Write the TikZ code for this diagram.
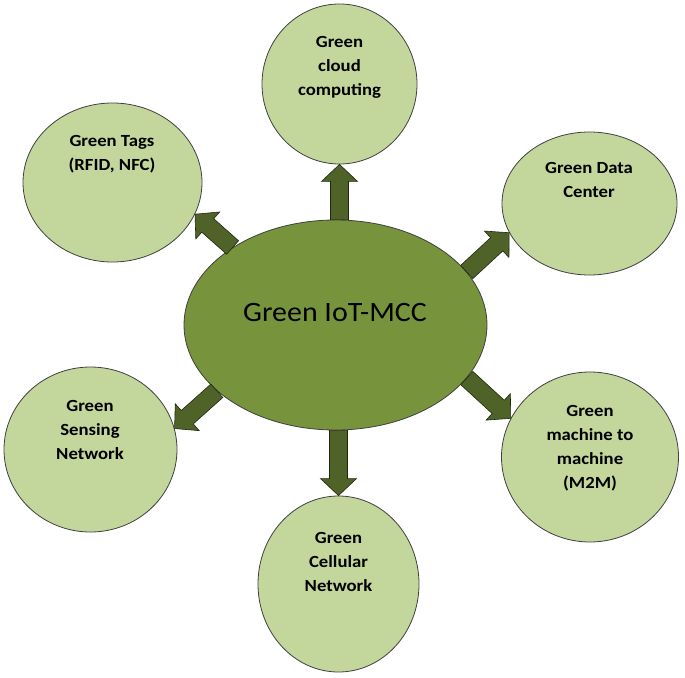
\documentclass[tikz,border=0pt]{standalone}
\usepackage{fontspec}
\newfontfamily\satfont[FakeStretch=1.1]{Carlito}
\newfontfamily\cenfont[FakeStretch=1.07]{Carlito}
\usetikzlibrary{shapes.geometric,calc}
\definecolor{satfill}{HTML}{C3D69B}
\definecolor{cenfill}{HTML}{77933C}
\definecolor{arrfill}{HTML}{4F6228}
\tikzset{
  sat/.style={ellipse, draw=black!75, line width=0.8pt, fill=satfill, inner sep=0pt},
  cen/.style={ellipse, draw=black!75, line width=0.8pt, fill=cenfill, inner sep=0pt},
  sattext/.style={font=\satfont\bfseries\fontsize{17}{24}\selectfont, align=center, inner sep=0pt, text=black},
  centext/.style={font=\cenfont\fontsize{28}{32}\selectfont, inner sep=0pt, text=black},
  fatarr/.style={fill=arrfill, draw=black!60!arrfill, line width=0.6pt},
}
\newcommand{\fatarrow}[2]{%
  \coordinate (fa1) at (#1);
  \coordinate (fa2) at (#2);
  \coordinate (fah) at ($(fa2)!17pt!(fa1)$);
  \filldraw[fatarr] ($(fa1)!9pt!90:(fa2)$) -- ($(fah)!9pt!90:(fa2)$) -- ($(fah)!18pt!90:(fa2)$)
    -- (fa2) -- ($(fah)!18pt!-90:(fa2)$) -- ($(fah)!9pt!-90:(fa2)$) -- ($(fa1)!9pt!-90:(fa2)$) -- cycle;
}
\begin{document}
\begin{tikzpicture}[x=1pt,y=-1pt]
\useasboundingbox (0,0) rectangle (685,677);
% satellites
\node[sat, minimum width=155pt, minimum height=160pt] (cloud) at (339.5,84) {};
\node[sat, minimum width=179pt, minimum height=159pt] (tags) at (112.5,182.5) {};
\node[sat, minimum width=175pt, minimum height=143pt] (dc) at (589.5,203.5) {};
\node[sat, minimum width=173pt, minimum height=165pt] (sens) at (90.5,449.5) {};
\node[sat, minimum width=177pt, minimum height=170pt] (m2m) at (590,457) {};
\node[sat, minimum width=161pt, minimum height=176pt] (cell) at (338.5,584) {};
% centre
\node[cen, minimum width=303pt, minimum height=210pt] (c) at (335.5,325) {};
% texts
\node[sattext] (cloudT) at (339.5,67) {Green\\cloud\\computing};
\node[sattext] (tagsT) at (112,154.5) {Green Tags\\(RFID, NFC)};
\node[sattext] (dcT) at (589,180) {Green Data\\Center};
\node[sattext] (sensT) at (90,430) {Green\\Sensing\\Network};
\node[sattext] (m2mT) at (590,448.5) {Green\\machine to\\machine\\(M2M)};
\node[sattext] (cellT) at (338.5,562) {Green\\Cellular\\Network};
\node[centext] (cT) at (335,313) {Green IoT-MCC};
% arrows
\fatarrow{c.north -| cloud.south}{cloud.south}
\fatarrow{c.south -| cell.north}{cell.north}
\fatarrow{c.143}{tags.-21.5}
\fatarrow{c.22}{dc.200}
\fatarrow{c.209}{sens.14}
\fatarrow{c.-22.5}{m2m.154}
\end{tikzpicture}
\end{document}
